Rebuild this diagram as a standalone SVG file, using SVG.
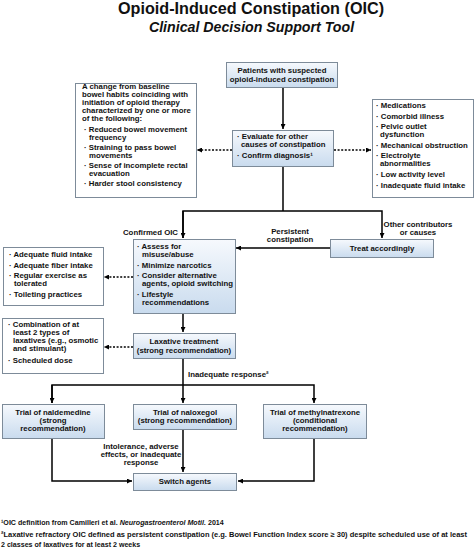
<svg xmlns="http://www.w3.org/2000/svg" width="474" height="551" viewBox="0 0 474 551">
<defs>
<linearGradient id="blue" x1="0" y1="0" x2="0" y2="1">
<stop offset="0" stop-color="#f6f9fd"/>
<stop offset="1" stop-color="#c9dbee"/>
</linearGradient>
<marker id="ah" viewBox="0 0 10 10" refX="10" refY="5" markerWidth="5" markerHeight="5" markerUnits="userSpaceOnUse" orient="auto">
<path d="M0,0 L10,5 L0,10 z" fill="#000"/>
</marker>
</defs>
<style>
text{font-family:"Liberation Sans",Arial,Helvetica,sans-serif;font-weight:bold;font-size:7.8px;fill:#111}
.title{font-size:16.2px}
.sub{font-size:14.2px;font-style:italic}
.c{text-anchor:middle}
.e{text-anchor:end}
.bx{fill:url(#blue);stroke:#7d8b99;stroke-width:1}
.wb{fill:#fff;stroke:#7d8b99;stroke-width:1}
.ln{fill:none;stroke:#000;stroke-width:1.5}
.dl{fill:none;stroke:#000;stroke-width:1.3;stroke-dasharray:2 1.6}
.fn{font-size:7.1px;font-weight:bold}
</style>
<g id="title">
<text class="title c" x="251" y="14">Opioid-Induced Constipation (OIC)</text>
<text class="sub c" x="251.5" y="32">Clinical Decision Support Tool</text>
</g>
<g id="connectors">
<path class="ln" d="M283,87 V129" marker-end="url(#ah)"/>
<path class="dl" d="M232,150 H197" marker-end="url(#ah)"/>
<path class="dl" d="M334,150 H371" marker-end="url(#ah)"/>
<path class="ln" d="M283,167 V211"/>
<path class="ln" d="M183,238 V211 H382 V238" marker-end="url(#ah)"/>
<path class="ln" d="M183,211 V238" marker-end="url(#ah)"/>
<path class="ln" d="M330,248 H236" marker-end="url(#ah)"/>
<path class="dl" d="M133,277 H104" marker-end="url(#ah)"/>
<path class="ln" d="M183,313 V332" marker-end="url(#ah)"/>
<path class="dl" d="M133,347 H104" marker-end="url(#ah)"/>
<path class="ln" d="M183,358 V403" marker-end="url(#ah)"/>
<path class="ln" d="M52,403 V385 H314 V403" marker-end="url(#ah)"/>
<path class="ln" d="M52,385 V403" marker-end="url(#ah)"/>
<path class="ln" d="M183,429 V472" marker-end="url(#ah)"/>
<path class="ln" d="M52,438 V481 H132" marker-end="url(#ah)"/>
<path class="ln" d="M314,438 V481 H238" marker-end="url(#ah)"/>
<text class="e" x="178" y="235">Confirmed OIC</text>
<text class="c" x="290" y="234">Persistent</text>
<text class="c" x="290" y="242">constipation</text>
<text class="c" x="418" y="227">Other contributors</text>
<text class="c" x="418" y="235">or causes</text>
<text x="188" y="377">Inadequate response²</text>
<text class="c" x="141" y="449">Intolerance, adverse</text>
<text class="c" x="141" y="457">effects, or inadequate</text>
<text class="c" x="141" y="465">response</text>
</g>
<g id="patients">
<rect class="bx" x="226.5" y="62.5" width="111" height="25"/>
<text class="c" x="282" y="73">Patients with suspected</text>
<text class="c" x="282" y="82">opioid-induced constipation</text>
</g>
<g id="criteria">
<rect class="wb" x="75.5" y="83.5" width="121" height="114"/>
<text x="82" y="89">A change from baseline</text>
<text x="82" y="97">bowel habits coinciding with</text>
<text x="82" y="105">initiation of opioid therapy</text>
<text x="82" y="113">characterized by one or more</text>
<text x="82" y="121">of the following:</text>
<text x="84" y="132">· Reduced bowel movement</text>
<text x="89" y="140">frequency</text>
<text x="84" y="150">· Straining to pass bowel</text>
<text x="89" y="158">movements</text>
<text x="84" y="168">· Sense of incomplete rectal</text>
<text x="89" y="176">evacuation</text>
<text x="84" y="186">· Harder stool consistency</text>
</g>
<g id="evaluate">
<rect class="bx" x="232.5" y="130.5" width="101" height="36"/>
<text x="237" y="139">· Evaluate for other</text>
<text x="241" y="147">causes of constipation</text>
<text x="237" y="158">· Confirm diagnosis¹</text>
</g>
<g id="causes">
<rect class="wb" x="372.5" y="99.5" width="101" height="98"/>
<text x="376" y="108">· Medications</text>
<text x="376" y="119">· Comorbid illness</text>
<text x="376" y="129">· Pelvic outlet</text>
<text x="380" y="137">dysfunction</text>
<text x="376" y="148">· Mechanical obstruction</text>
<text x="376" y="158">· Electrolyte</text>
<text x="380" y="166">abnormalities</text>
<text x="376" y="177">· Low activity level</text>
<text x="376" y="188">· Inadequate fluid intake</text>
</g>
<g id="treat">
<rect class="bx" x="330.5" y="239.5" width="103" height="18"/>
<text class="c" x="382" y="251">Treat accordingly</text>
</g>
<g id="assess">
<rect class="bx" x="133.5" y="239.5" width="102" height="74"/>
<text x="137" y="249">· Assess for</text>
<text x="142" y="257">misuse/abuse</text>
<text x="137" y="268">· Minimize narcotics</text>
<text x="137" y="278">· Consider alternative</text>
<text x="142" y="286">agents, opioid switching</text>
<text x="137" y="297">· Lifestyle</text>
<text x="142" y="305">recommendations</text>
</g>
<g id="lifestyle">
<rect class="wb" x="3.5" y="247.5" width="100" height="58"/>
<text x="9" y="257">· Adequate fluid intake</text>
<text x="9" y="268">· Adequate fiber intake</text>
<text x="9" y="278">· Regular exercise as</text>
<text x="14" y="286">tolerated</text>
<text x="9" y="297">· Toileting practices</text>
</g>
<g id="laxative">
<rect class="bx" x="133.5" y="333.5" width="102" height="25"/>
<text class="c" x="184" y="344">Laxative treatment</text>
<text class="c" x="184" y="353">(strong recommendation)</text>
</g>
<g id="laxdetail">
<rect class="wb" x="2.5" y="318.5" width="101" height="55"/>
<text x="8" y="327">· Combination of at</text>
<text x="13" y="335">least 2 types of</text>
<text x="13" y="343">laxatives (e.g., osmotic</text>
<text x="13" y="351">and stimulant)</text>
<text x="8" y="363">· Scheduled dose</text>
</g>
<g id="naldemedine">
<rect class="bx" x="2.5" y="404.5" width="102" height="34"/>
<text class="c" x="53" y="415">Trial of naldemedine</text>
<text class="c" x="53" y="423">(strong</text>
<text class="c" x="53" y="431">recommendation)</text>
</g>
<g id="naloxegol">
<rect class="bx" x="133.5" y="404.5" width="103" height="25"/>
<text class="c" x="185" y="415">Trial of naloxegol</text>
<text class="c" x="185" y="423">(strong recommendation)</text>
</g>
<g id="methylnaltrexone">
<rect class="bx" x="263.5" y="404.5" width="103" height="34"/>
<text class="c" x="315" y="415">Trial of methylnatrexone</text>
<text class="c" x="315" y="423">(conditional</text>
<text class="c" x="315" y="431">recommendation)</text>
</g>
<g id="switch">
<rect class="bx" x="133.5" y="473.5" width="103" height="17"/>
<text class="c" x="185" y="484">Switch agents</text>
</g>
<g id="footnotes">
<text class="fn" x="1" y="525">¹OIC definition from Camilleri et al. <tspan font-style="italic">Neurogastroenterol Motil.</tspan> 2014</text>
<text class="fn" x="1" y="537" textLength="466" lengthAdjust="spacingAndGlyphs">²Laxative refractory OIC defined as persistent constipation (e.g. Bowel Function Index score ≥ 30) despite scheduled use of at least</text>
<text class="fn" x="1" y="547">2 classes of laxatives for at least 2 weeks</text>
</g>
</svg>
